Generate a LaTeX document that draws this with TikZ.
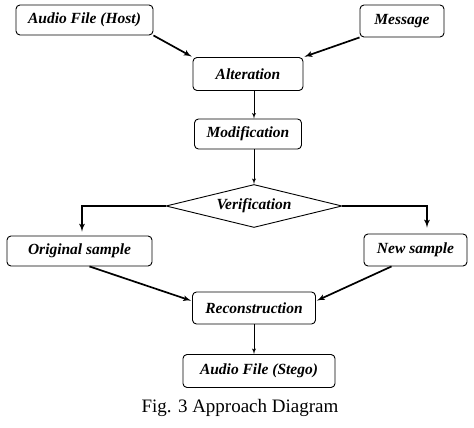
\documentclass[tikz,border=0pt]{standalone}
\usepackage{fontspec}
\setmainfont{Liberation Serif}
\usetikzlibrary{shapes,arrows,positioning}
\tikzset{
block/.style = {draw, fill=white, rectangle, rounded corners=4pt, line width=0.9pt, minimum height=31pt, inner sep=2pt, font=\fontsize{15.5}{18}\selectfont\bfseries\itshape},
decision/.style = {draw, fill=white, diamond, aspect=4, inner sep=1pt, line width=0.9pt, minimum width=176pt, minimum height=43pt, font=\fontsize{15.5}{18}\selectfont\bfseries\itshape},
thickarrow/.style = {->, line width=1.7pt, shorten >=1pt},
thinarrow/.style = {->, line width=0.9pt},
}

\begin{document}
\begin{tikzpicture}[auto, x=1pt, y=1pt, node distance=60pt, >=latex']
\useasboundingbox (0,0) rectangle (474,428);
% inputs
\node[block, minimum width=137pt, minimum height=30pt] (host) at (84.5,408) {Audio File (Host)};
\node[block, minimum width=84pt, minimum height=32pt] (msg) at (402,407) {Message};
% main column
\node[block, minimum width=110pt, minimum height=33pt] (alter) at (248,354) {Alteration};
\node[block, below of=alter, minimum width=107pt, minimum height=30pt] (modif) {Modification};
\node[decision, below of=modif, node distance=72pt, xshift=6pt] (verif) {Verification};
\node[block, minimum width=145pt, minimum height=30pt] (orig) at (79.5,177) {Original sample};
\node[block, minimum width=103pt, minimum height=32pt] (new) at (415.5,178) {New sample};
\node[block, below of=verif, node distance=102pt, minimum width=123pt, minimum height=32pt] (recon) {Reconstruction};
\node[block, below of=recon, node distance=63pt, xshift=5pt, minimum width=152pt, minimum height=33pt] (stego) {Audio File (Stego)};
\node (caption) at (240,20) {\fontsize{19}{22}\selectfont Fig. 3 Approach Diagram};
% connectors
\draw[thickarrow] (host.south east) -- (alter.north west);
\draw[thickarrow] (msg.south west) -- (alter.north east);
\draw[thinarrow] (alter.south -| verif.north) -- (modif.north -| verif.north);
\draw[thinarrow] (modif.south -| verif.north) -- (verif.north);
\draw[thickarrow, shorten >=4pt] (verif.west) -| ([xshift=2.5pt]orig.north);
\draw[thickarrow, shorten >=6pt] (verif.east) -| ([xshift=11.5pt]new.north);
\draw[thickarrow] ([xshift=10pt]orig.south) -- ([yshift=7pt]recon.west);
\draw[thickarrow] ([xshift=-24pt]new.south) -- ([yshift=7pt]recon.east);
\draw[thinarrow] (recon.south) -- (recon.south |- stego.north);
\end{tikzpicture}
\end{document}
